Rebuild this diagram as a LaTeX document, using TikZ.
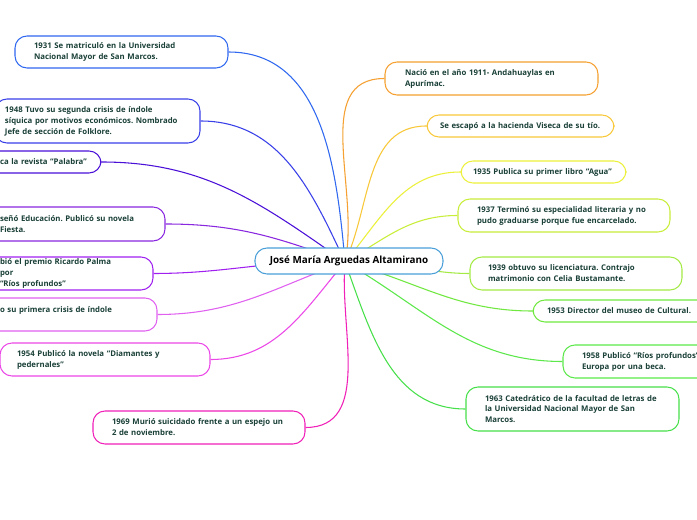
\documentclass[tikz,border=0pt]{standalone}
\usepackage{fontspec}
\setmainfont{Open Sans}
\frenchspacing
\usetikzlibrary{backgrounds}
\definecolor{txt}{HTML}{1A4038}
\definecolor{cL1}{HTML}{3068F0}\definecolor{cL2}{HTML}{3A40E8}\definecolor{cL3}{HTML}{4A10D8}\definecolor{cL4}{HTML}{8A28E0}
\definecolor{cL5}{HTML}{A020F0}\definecolor{cL6}{HTML}{E060F0}\definecolor{cL7}{HTML}{EC48E8}\definecolor{cL8}{HTML}{F020B8}
\definecolor{cR1}{HTML}{F5A030}\definecolor{cR2}{HTML}{F8C83A}\definecolor{cR3}{HTML}{ECF03A}\definecolor{cR4}{HTML}{C8EE3A}
\definecolor{cR5}{HTML}{A4EA44}\definecolor{cR6}{HTML}{70E840}\definecolor{cR7}{HTML}{5CE84A}\definecolor{cR8}{HTML}{48E04A}
\definecolor{cC}{HTML}{4A9FD8}
\tikzset{bx/.style={draw, rounded corners=9pt, line width=0.8pt, fill=white, inner sep=0pt, align=left, text=txt, font=\bfseries\fontsize{5.85}{8.2}\selectfont},
 ln/.style={line width=0.8pt}}
\newcommand\bx[8]{%
 \pgfmathsetmacro\bw{(#4-#2)*0.75}\pgfmathsetmacro\bh{(#5-#3)*0.75}\pgfmathsetmacro\tw{(#2+#4-2*#6)*0.75}%
 \node[bx, draw=#7, minimum width=\bw pt, minimum height=\bh pt, text width=\tw pt] (#1) at ({(#2+#4)/2},{(#3+#5)/2}) {#8};}
\begin{document}
\begin{tikzpicture}[x=0.75pt,y=-0.75pt]
\useasboundingbox (0,0) rectangle (697,520);
\clip (0,0) rectangle (697,520);
\begin{scope}[on background layer]\fill[white] (0,0) rectangle (697,520);\end{scope}
\coordinate (o) at (345,262);
\bx{L1}{15}{36}{228}{68}{34}{cL1}{1931 Se matriculó en la Universidad\\Nacional Mayor de San Marcos.}
\bx{L2}{-5}{99}{200}{143}{5}{cL2}{1948 Tuvo su segunda crisis de índole\\síquica por motivos económicos. Nombrado\\Jefe de sección de Folklore.}
\bx{L3}{-13}{151}{101}{173}{0}{cL3}{ca la revista “Palabra”}
\bx{L4}{-30}{207}{165}{241}{0}{cL4}{señó Educación. Publicó su novela\\Fiesta.}
\bx{L5}{-30}{257}{153}{290}{0}{cL5}{bió el premio Ricardo Palma por\\“Ríos profundos”}
\bx{L6}{-30}{298}{157}{331}{0}{cL6}{o su primera crisis de índole\\\mbox{}}
\bx{L7}{0}{343}{210}{376}{17}{cL7}{1954 Publicó la novela “Diamantes y\\pedernales”}
\bx{L8}{93}{411}{305}{444}{112}{cL8}{1969 Murió suicidado frente a un espejo un\\2 de noviembre.}
\bx{R1}{385}{62}{598}{95}{405}{cR1}{Nació en el año 1911- Andahuaylas en\\Apurímac.}
\bx{R2}{427}{115}{614}{137}{440}{cR2}{Se escapó a la hacienda Viseca de su tío.}
\bx{R3}{461}{161}{626}{183}{473}{cR3}{1935 Publica su primer libro “Agua”}
\bx{R4}{458}{199}{670}{232}{477}{cR4}{1937 Terminó su especialidad literaria y no\\pudo graduarse porque fue encarcelado.}
\bx{R5}{470}{257}{682}{290}{488}{cR5}{1939 obtuvo su licenciatura. Contrajo\\matrimonio con Celia Bustamante.}
\bx{R6}{533}{300}{720}{322}{547}{cR6}{1953 Director del museo de Cultural.}
\bx{R7}{563}{345}{760}{378}{582}{cR7}{1958 Publicó “Ríos profundos”\\Europa por una beca.}
\bx{R8}{466}{387}{679}{431}{485}{cR8}{1963 Catedrático de la facultad de letras de\\la Universidad Nacional Mayor de San\\Marcos.}
\node[draw=cC, fill=white, rounded corners=9pt, line width=0.8pt, minimum width=141pt, minimum height=19.5pt, font=\bfseries\fontsize{7.4}{9}\selectfont, text=black] (c) at (349,261) {José María Arguedas Altamirano};
\begin{scope}[on background layer]
\draw[ln,cL1] (o) to[out=95,in=0] (L1.east);
\draw[ln,cL2] (o) to[out=115,in=0] (L2.east);
\draw[ln,cL3] (o) to[out=145,in=0] (L3.east);
\draw[ln,cL4] (o) to[out=160,in=0] (L4.east);
\draw[ln,cL5] (o) to[out=178,in=0] (L5.east);
\draw[ln,cL6] (o) to[out=200,in=0] (L6.east);
\draw[ln,cL7] (o) to[out=230,in=0] (L7.east);
\draw[ln,cL8] (o) to[out=265,in=0] (L8.east);
\draw[ln,cR1] (o) to[out=78,in=180] (R1.west);
\draw[ln,cR2] (o) to[out=65,in=180] (R2.west);
\draw[ln,cR3] (o) to[out=50,in=180] (R3.west);
\draw[ln,cR4] (o) to[out=30,in=180] (R4.west);
\draw[ln,cR5] (o) to[out=5,in=180] (R5.west);
\draw[ln,cR6] (o) to[out=-15,in=180] (R6.west);
\draw[ln,cR7] (o) to[out=-30,in=180] (R7.west);
\draw[ln,cR8] (o) to[out=-70,in=180] (R8.west);
\end{scope}
\end{tikzpicture}
\end{document}
